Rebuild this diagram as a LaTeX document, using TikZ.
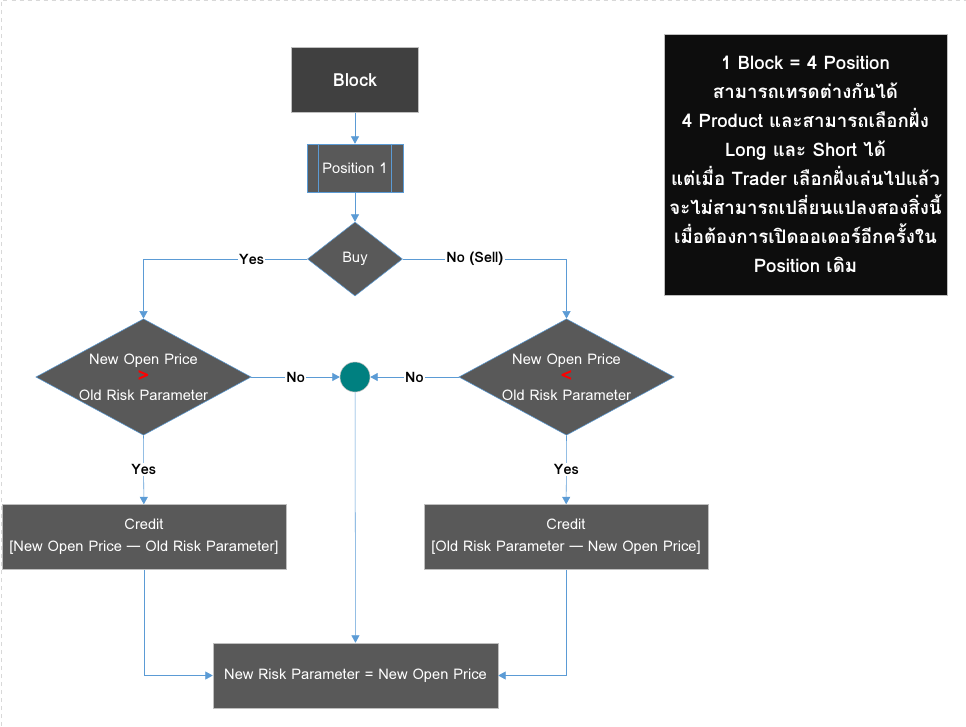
\documentclass[tikz,border=0pt]{standalone}
\usepackage{fontspec}
\setmainfont{Loma}[Script=Thai]
\usepackage{tikz}
\usetikzlibrary{calc, positioning, arrows.meta, shapes.geometric}
\definecolor{LineBlue}{RGB}{91,155,213}
\definecolor{BoxGrey}{RGB}{89,89,89}
\definecolor{BlockGrey}{RGB}{64,64,64}
\definecolor{EdgeGrey}{RGB}{191,191,191}
\definecolor{NoteBlack}{RGB}{13,13,13}
\definecolor{MarkTeal}{RGB}{0,128,128}

\begin{document}
\begin{tikzpicture}[
  x=0.75pt, y=-0.75pt,
  font=\fontsize{11}{16.5}\selectfont,
  box/.style={draw=EdgeGrey, fill=BoxGrey, text=white, minimum width=213pt, minimum height=48.75pt, align=center, inner sep=2pt},
  blockbox/.style={box, fill=BlockGrey, minimum width=95.25pt, font=\fontsize{13.5}{15}\selectfont\bfseries},
  posbox/.style={box, draw=LineBlue, minimum width=72pt, minimum height=36pt},
  decision/.style={diamond, draw=LineBlue, fill=BoxGrey, text=white, align=center, inner sep=0pt, aspect=1.85, minimum width=161.25pt, minimum height=87pt, font=\fontsize{11}{13.5}\selectfont},
  merge/.style={circle, draw=EdgeGrey, fill=MarkTeal, minimum size=22.5pt, inner sep=0pt},
  note/.style={draw=EdgeGrey, fill=NoteBlack, text=white, minimum width=212.25pt, minimum height=195.75pt, align=center, font=\fontsize{14}{21.75}\selectfont\bfseries},
  flow/.style={draw=LineBlue, -{Triangle[width=6pt,length=5.5pt]}},
  answer/.style={fill=white, inner sep=1pt, font=\fontsize{10.8}{12}\selectfont\bfseries}
]
\useasboundingbox (0,0) rectangle (966,726);
\draw[EdgeGrey!60, dashed] (1,726) -- (1,0.5) -- (966,0.5);

% Top: block and position
\node[blockbox] (block) at (355,80) {Block};
\node[posbox] (pos) at (355,168) {Position 1};
\draw[LineBlue] ([xshift=9pt]pos.north west) -- ([xshift=9pt]pos.south west);
\draw[LineBlue] ([xshift=-9pt]pos.north east) -- ([xshift=-9pt]pos.south east);
\node[decision, aspect=1.28, minimum width=71.25pt, minimum height=55.5pt] (buy) at (355,259) {Buy};

% Decisions on price
\node[decision] (ldec) at (143.5,377) {New Open Price\\{\color{red}\bfseries\fontsize{15}{13.5}\selectfont >}\\Old Risk Parameter};
\node[decision] (rdec) at (566.5,377) {New Open Price\\{\color{red}\bfseries\fontsize{15}{13.5}\selectfont <}\\Old Risk Parameter};
\node[merge] (join) at (355,377) {};

% Credit and result
\node[box] (lcredit) at (144,537) {Credit\\{}[New Open Price --- Old Risk Parameter]};
\node[box] (rcredit) at (566,537) {Credit\\{}[Old Risk Parameter --- New Open Price]};
\node[box, minimum width=213.75pt] (result) at (355.5,675.5) {New Risk Parameter = New Open Price};

% Note
\node[note] (note) at (805.5,164.5) {1 Block = 4 Position\\สามารถเทรดต่างกันได้\\4 Product และสามารถเลือกฝั่ง\\Long และ Short ได้\\แต่เมื่อ Trader เลือกฝั่งเล่นไปแล้ว\\จะไม่สามารถเปลี่ยนแปลงสองสิ่งนี้\\เมื่อต้องการเปิดออเดอร์อีกครั้งใน\\Position เดิม};

% Connectors
\draw[flow] (block) -- (pos);
\draw[flow] (pos) -- (buy);
\draw[flow] (buy.west) -| node[answer, pos=0.17] {Yes} (ldec.north);
\draw[flow] (buy.east) -| node[answer, pos=0.22] {No (Sell)} (rdec.north);
\draw[flow] (ldec.east) -- node[answer] {No} (join);
\draw[flow] (rdec.west) -- node[answer] {No} (join);
\draw[flow] (ldec.south) -- node[answer] {Yes} (lcredit);
\draw[flow] (rdec.south) -- node[answer] {Yes} (rcredit);
\draw[flow] (lcredit.south) |- (result.west);
\draw[flow] (rcredit.south) |- (result.east);
\draw[flow] (join) -- (result);
\end{tikzpicture}
\end{document}
